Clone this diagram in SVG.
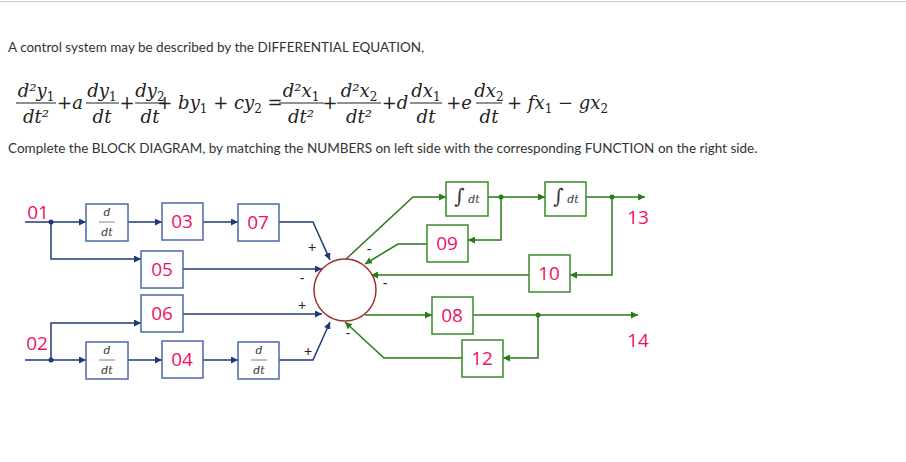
<svg xmlns="http://www.w3.org/2000/svg" width="906" height="462" viewBox="0 0 906 462">
<defs>
<marker id="ab" viewBox="0 0 10 10" refX="10" refY="5" markerWidth="7" markerHeight="7" orient="auto" markerUnits="userSpaceOnUse"><path d="M0,0L10,5L0,10z" fill="#1f3a78"/></marker>
<marker id="ag" viewBox="0 0 10 10" refX="10" refY="5" markerWidth="7" markerHeight="7" orient="auto" markerUnits="userSpaceOnUse"><path d="M0,0L10,5L0,10z" fill="#2a7a1a"/></marker>
<style>
.t{font-family:Lato,"Liberation Sans",sans-serif;font-size:13.5px;fill:#333}
.m{font-family:"DejaVu Serif",serif;font-style:italic;font-size:18px;fill:#222}
.mo{font-family:"DejaVu Serif",serif;font-size:18px;fill:#222}
.bb{fill:#fff;stroke:#4a6aa8;stroke-width:1.5}
.gb{fill:#fff;stroke:#3a8a2a;stroke-width:1.5}
.n{font-family:"Open Sans","Liberation Sans",sans-serif;font-size:19px;fill:#f0115e;text-anchor:middle}
.s{font-family:"Liberation Sans",sans-serif;font-size:14px;fill:#222;text-anchor:middle}
.f{font-family:"DejaVu Serif",serif;font-style:italic;font-size:11px;fill:#333;text-anchor:middle}
.bl{fill:none;stroke:#1f3a78;stroke-width:1.5}
.gl{fill:none;stroke:#2a7a1a;stroke-width:1.5}
</style>
</defs>
<rect width="906" height="462" fill="#fff"/>
<line x1="0" y1="1.5" x2="906" y2="1.5" stroke="#ccc"/>
<text class="t" x="8" y="52">A control system may be described by the DIFFERENTIAL EQUATION,</text>
<g id="equation" text-anchor="middle">
<g stroke="#222" stroke-width="1"><line x1="16" y1="103" x2="56" y2="103"/><line x1="86" y1="103" x2="119" y2="103"/><line x1="135" y1="103" x2="165" y2="103"/><line x1="279" y1="103" x2="324" y2="103"/><line x1="337" y1="103" x2="381" y2="103"/><line x1="410" y1="103" x2="442" y2="103"/><line x1="476" y1="103" x2="502" y2="103"/></g>
<text class="m" x="36" y="97">d²y<tspan font-size="12" font-style="normal" dy="4">1</tspan></text><text class="m" x="36" y="123">dt²</text>
<text class="mo" x="70" y="109">+<tspan font-style="italic">a</tspan></text>
<text class="m" x="102" y="97">dy<tspan font-size="12" font-style="normal" dy="4">1</tspan></text><text class="m" x="102" y="123">dt</text>
<text class="mo" x="127" y="109">+</text>
<text class="m" x="150" y="97">dy<tspan font-size="12" font-style="normal" dy="4">2</tspan></text><text class="m" x="150" y="123">dt</text>
<text class="mo" x="220" y="109" font-size="17">+ <tspan font-style="italic">by</tspan><tspan font-size="12" dy="4">1</tspan><tspan dy="-4"> + </tspan><tspan font-style="italic">cy</tspan><tspan font-size="12" dy="4">2</tspan><tspan dy="-4"> =</tspan></text>
<text class="m" x="301" y="97">d²x<tspan font-size="12" font-style="normal" dy="4">1</tspan></text><text class="m" x="301" y="123">dt²</text>
<text class="mo" x="330" y="109">+</text>
<text class="m" x="359" y="97">d²x<tspan font-size="12" font-style="normal" dy="4">2</tspan></text><text class="m" x="359" y="123">dt²</text>
<text class="mo" x="395" y="109">+<tspan font-style="italic">d</tspan></text>
<text class="m" x="426" y="97">dx<tspan font-size="12" font-style="normal" dy="4">1</tspan></text><text class="m" x="426" y="123">dt</text>
<text class="mo" x="459" y="109">+<tspan font-style="italic">e</tspan></text>
<text class="m" x="489" y="97">dx<tspan font-size="12" font-style="normal" dy="4">2</tspan></text><text class="m" x="489" y="123">dt</text>
<text class="mo" x="507" y="109" text-anchor="start">+ <tspan font-style="italic">fx</tspan><tspan font-size="12" dy="4">1</tspan><tspan dy="-4"> − </tspan><tspan font-style="italic">gx</tspan><tspan font-size="12" dy="4">2</tspan></text>
</g>
<text class="t" x="8" y="153">Complete the BLOCK DIAGRAM, by matching the NUMBERS on left side with the corresponding FUNCTION on the right side.</text>

<g id="connectors">
<path class="bl" d="M25,222H86" marker-end="url(#ab)"/>
<path class="bl" d="M128,222H162" marker-end="url(#ab)"/>
<path class="bl" d="M203,222H238" marker-end="url(#ab)"/>
<path class="bl" d="M279,222H313L330,260" marker-end="url(#ab)"/>
<path class="bl" d="M51,222V259H141" marker-end="url(#ab)"/>
<path class="bl" d="M183,269H322" marker-end="url(#ab)"/>
<path class="bl" d="M25,360H86" marker-end="url(#ab)"/>
<path class="bl" d="M51,360V323H141" marker-end="url(#ab)"/>
<path class="bl" d="M183,314H322" marker-end="url(#ab)"/>
<path class="bl" d="M128,360H162" marker-end="url(#ab)"/>
<path class="bl" d="M203,360H238" marker-end="url(#ab)"/>
<path class="bl" d="M279,360H313L330,322" marker-end="url(#ab)"/>
<circle cx="51" cy="222" r="2.5" fill="#1f3a78"/><circle cx="51" cy="360" r="2.5" fill="#1f3a78"/>
<path class="gl" d="M345,260L413,197H446" marker-end="url(#ag)"/>
<path class="gl" d="M488,197H545" marker-end="url(#ag)"/>
<path class="gl" d="M501,197V240H468" marker-end="url(#ag)"/>
<path class="gl" d="M427,244H398L365,264" marker-end="url(#ag)"/>
<path class="gl" d="M586,197H645" marker-end="url(#ag)"/>
<path class="gl" d="M612,197V275H570" marker-end="url(#ag)"/>
<path class="gl" d="M529,275H371" marker-end="url(#ag)"/>
<path class="gl" d="M365,315H432" marker-end="url(#ag)"/>
<path class="gl" d="M473,315H638" marker-end="url(#ag)"/>
<path class="gl" d="M538,315V358H503" marker-end="url(#ag)"/>
<path class="gl" d="M462,358H384L345,322" marker-end="url(#ag)"/>
<circle cx="501" cy="197" r="2.5" fill="#2a7a1a"/><circle cx="612" cy="197" r="2.5" fill="#2a7a1a"/><circle cx="538" cy="315" r="2.5" fill="#2a7a1a"/>
</g>

<g id="sum"><circle cx="345" cy="290" r="31" fill="#fff" stroke="#a03030" stroke-width="1.5"/></g>
<g id="signs">
<text class="s" x="312" y="252">+</text><text class="s" x="302" y="283">-</text><text class="s" x="302" y="310">+</text><text class="s" x="308" y="356">+</text>
<text class="s" x="369" y="254">-</text><text class="s" x="385" y="288">-</text><text class="s" x="348" y="338">-</text>
</g>
<text class="n" x="38" y="219">01</text>
<text class="n" x="37" y="350">02</text>
<g id="dd1"><rect class="bb" x="86" y="204" width="42" height="37"/><text class="f" x="107" y="216">d</text><line x1="99" y1="222" x2="115" y2="222" stroke="#666" stroke-width="0.8"/><text class="f" x="107" y="236">dt</text></g>
<g id="b03"><rect class="bb" x="162" y="203" width="41" height="37"/><text class="n" x="182" y="228">03</text></g>
<g id="b07"><rect class="bb" x="238" y="204" width="41" height="37"/><text class="n" x="258" y="229">07</text></g>
<g id="b05"><rect class="bb" x="141" y="251" width="42" height="37"/><text class="n" x="162" y="276">05</text></g>
<g id="b06"><rect class="bb" x="141" y="295" width="42" height="37"/><text class="n" x="162" y="320">06</text></g>
<g id="dd2"><rect class="bb" x="86" y="342" width="42" height="37"/><text class="f" x="107" y="354">d</text><line x1="99" y1="360" x2="115" y2="360" stroke="#666" stroke-width="0.8"/><text class="f" x="107" y="374">dt</text></g>
<g id="b04"><rect class="bb" x="162" y="341" width="41" height="37"/><text class="n" x="182" y="366">04</text></g>
<g id="dd3"><rect class="bb" x="238" y="342" width="41" height="37"/><text class="f" x="259" y="354">d</text><line x1="251" y1="360" x2="267" y2="360" stroke="#666" stroke-width="0.8"/><text class="f" x="259" y="374">dt</text></g>
<g id="int1"><rect class="gb" x="446" y="182" width="42" height="34"/><text x="467" y="203" font-family="DejaVu Serif,serif" font-size="11" font-style="italic" fill="#333" text-anchor="middle"><tspan font-size="20">∫</tspan> dt</text></g>
<g id="int2"><rect class="gb" x="545" y="182" width="41" height="34"/><text x="566" y="203" font-family="DejaVu Serif,serif" font-size="11" font-style="italic" fill="#333" text-anchor="middle"><tspan font-size="20">∫</tspan> dt</text></g>
<g id="b09"><rect class="gb" x="427" y="225" width="41" height="37"/><text class="n" x="447" y="250">09</text></g>
<g id="b10"><rect class="gb" x="529" y="255" width="41" height="37"/><text class="n" x="549" y="280">10</text></g>
<g id="b08"><rect class="gb" x="432" y="297" width="41" height="37"/><text class="n" x="452" y="322">08</text></g>
<g id="b12"><rect class="gb" x="462" y="340" width="41" height="37"/><text class="n" x="482" y="365">12</text></g>
<text class="n" x="638" y="224">13</text>
<text class="n" x="638" y="347">14</text>
</svg>
